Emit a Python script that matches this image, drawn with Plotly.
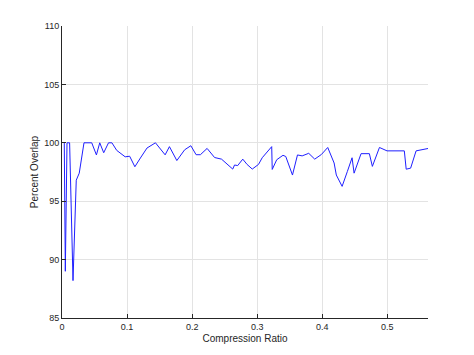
import plotly.graph_objects as go

compression_ratio = [
    0.0035, 0.0051, 0.0077, 0.0117, 0.0169, 0.0219, 0.0265, 0.0338, 0.0457, 0.0529,
    0.0580, 0.0641, 0.0715, 0.0767, 0.0841, 0.0902, 0.0971, 0.1040, 0.1120, 0.1205,
    0.1306, 0.1436, 0.1585, 0.1651, 0.1765, 0.1885, 0.1980, 0.2061, 0.2127, 0.2230,
    0.2345, 0.2452, 0.2624, 0.2652, 0.2700, 0.2778, 0.2844, 0.2924, 0.3020, 0.3077,
    0.3223, 0.3231, 0.3300, 0.3396, 0.3439, 0.3542, 0.3619, 0.3691, 0.3792, 0.3884,
    0.3987, 0.4084, 0.4182, 0.4216, 0.4305, 0.4386, 0.4458, 0.4489, 0.4596, 0.4724,
    0.4770, 0.4879, 0.4995, 0.5261, 0.5290, 0.5358, 0.5442, 0.5632,
]
percent_overlap = [
    100, 89.0, 100, 100, 88.2, 96.8, 97.4, 100, 100, 98.96,
    100, 99.15, 100, 100, 99.35, 99.1, 98.8, 98.85, 97.95, 98.7,
    99.55, 100, 98.97, 99.67, 98.48, 99.4, 99.75, 98.98, 98.98, 99.52,
    98.74, 98.6, 97.75, 98.1, 98.05, 98.6, 98.15, 97.75, 98.15, 98.72,
    99.67, 97.72, 98.55, 98.93, 98.83, 97.24, 98.96, 98.88, 99.1, 98.6,
    99.0, 99.6, 98.27, 97.24, 96.27, 97.55, 98.72, 97.4, 99.07, 99.07,
    97.98, 99.6, 99.31, 99.31, 97.74, 97.83, 99.31, 99.52,
]

x_ticks = [0, 0.1, 0.2, 0.3, 0.4, 0.5]
x_tick_labels = ["0", "0.1", "0.2", "0.3", "0.4", "0.5"]
y_ticks = [85, 90, 95, 100, 105, 110]
y_tick_labels = ["85", "90", "95", "100", "105", "110"]

fig = go.Figure()
fig.add_trace(go.Scatter(
    x=compression_ratio, y=percent_overlap, mode="lines",
    line=dict(color="#1f1fff", width=1), showlegend=False,
))

axis_common = dict(
    showline=True, linecolor="#262626", linewidth=1,
    ticks="inside", ticklen=4, tickcolor="#262626", tickwidth=1,
    showgrid=True, gridcolor="#e3e3e3", gridwidth=1,
    zeroline=False, mirror=False,
    tickfont=dict(family="Liberation Sans, Arial, sans-serif", size=9, color="#262626"),
)

fig.update_layout(
    width=474, height=355,
    margin=dict(l=62, r=46, t=26, b=37),
    paper_bgcolor="white", plot_bgcolor="white",
    xaxis=dict(
        range=[0, 0.5625], tickvals=x_ticks, ticktext=x_tick_labels,
        title=dict(text="Compression Ratio", standoff=4,
                   font=dict(family="Liberation Sans, Arial, sans-serif", size=10, color="#262626")),
        **axis_common,
    ),
    yaxis=dict(
        range=[85, 110], tickvals=y_ticks, ticktext=y_tick_labels,
        title=dict(text="Percent Overlap", standoff=3,
                   font=dict(family="Liberation Sans, Arial, sans-serif", size=10, color="#262626")),
        **axis_common,
    ),
)

fig.write_html("out.html")
